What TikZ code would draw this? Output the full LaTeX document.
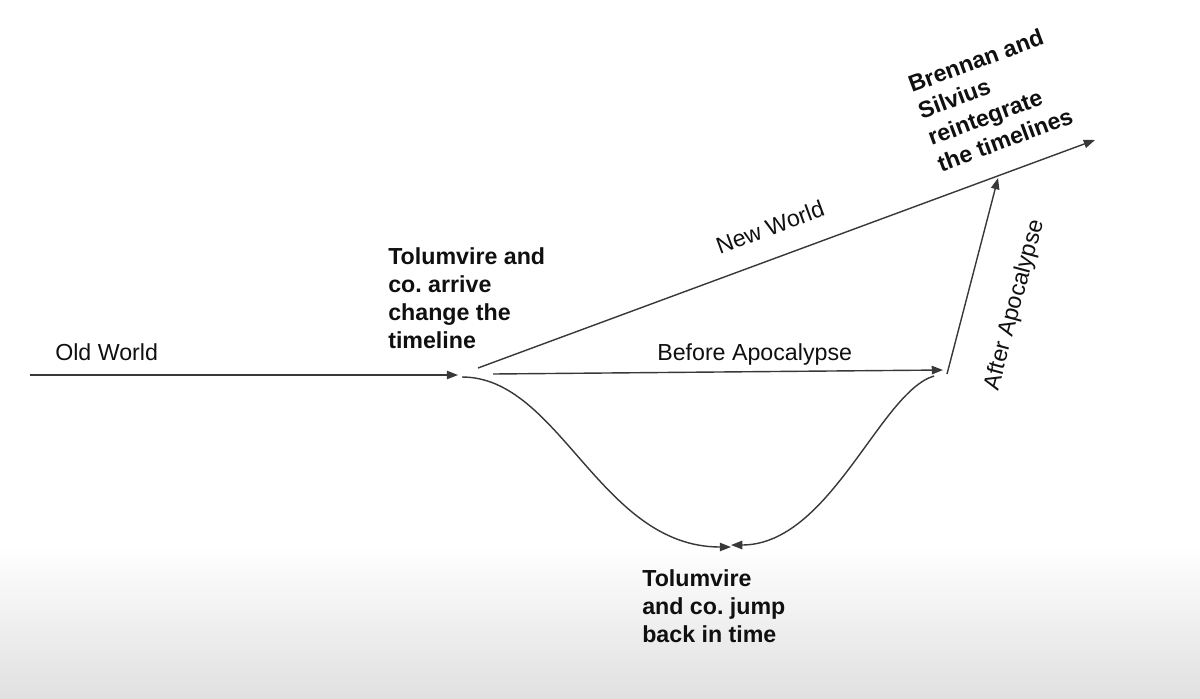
\documentclass[tikz,border=0pt]{standalone}
\usepackage{fontspec}
\setmainfont{Liberation Sans}
\usetikzlibrary{positioning, arrows.meta, calc}
\usepackage{xcolor}
\frenchspacing

\definecolor{linegray}{HTML}{383838}
\definecolor{textdark}{HTML}{101010}

\begin{document}
\begin{tikzpicture}[x=0.025cm, y=-0.025cm, >={Triangle[length=8pt, width=6pt]},
    every node/.style={font=\fontsize{16.5}{20}\selectfont, text=textdark, inner sep=0pt},
    every text node part/.style={align=left},
    timeline/.style={draw=linegray, line width=1pt},
    boldlabel/.style={font=\fontsize{16.5}{20}\selectfont\bfseries}]
        % Background
        \fill[white] (0,0) rectangle (1200,698);
        \shade[top color=white, bottom color=black!12] (0,545) rectangle (1200,698);
        \useasboundingbox (0,0) rectangle (1200,698);

        % Points on the timelines
        \coordinate (oldstart) at (30,375);
        \coordinate (oldend) at (458,375);
        \coordinate (newstart) at (478,368);
        \coordinate (newend) at (1095,140);
        \coordinate (beforestart) at (493,374);
        \coordinate (beforeend) at (943,370);
        \coordinate (jumpstart) at (462,377);
        \coordinate (jumpend) at (731,547);
        \coordinate (returnstart) at (934,376);
        \coordinate (returnend) at (731,545);
        \coordinate (afterstart) at (947,374);
        \coordinate (afterend) at (998,178);

        % Timelines
        \draw[timeline, ->] (oldstart) -- (oldend);
        \draw[timeline, ->] (newstart) -- (newend);
        \draw[timeline, ->] (beforestart) -- (beforeend);
        \draw[timeline, ->] (jumpstart) .. controls (560,377) and (600,547) .. (jumpend);
        \draw[timeline, ->] (returnstart) .. controls (880,392) and (830,545) .. (returnend);
        \draw[timeline, ->] (afterstart) -- (afterend);

        % Labels
        \node (oldlabel) [anchor=base west] at (55,360) {Old World};
        \node (arrivelabel) [boldlabel, anchor=north west] at (388,247) {Tolumvire and\\co. arrive\\change the\\timeline};
        \node (newlabel) [rotate=20.3] at (770,227) {New World};
        \node (beforelabel) [anchor=base west] at (657,360) {Before Apocalypse};
        \node (afterlabel) [rotate=75] at (1015,305) {After Apocalypse};
        \node (jumplabel) [boldlabel, anchor=north west] at (642,569) {Tolumvire\\and co. jump\\back in time};
        \node (reintegratelabel) [boldlabel, rotate=20.3, anchor=north west] at (906,77) {Brennan and\\Silvius\\reintegrate\\the timelines};
    \end{tikzpicture}
\end{document}
